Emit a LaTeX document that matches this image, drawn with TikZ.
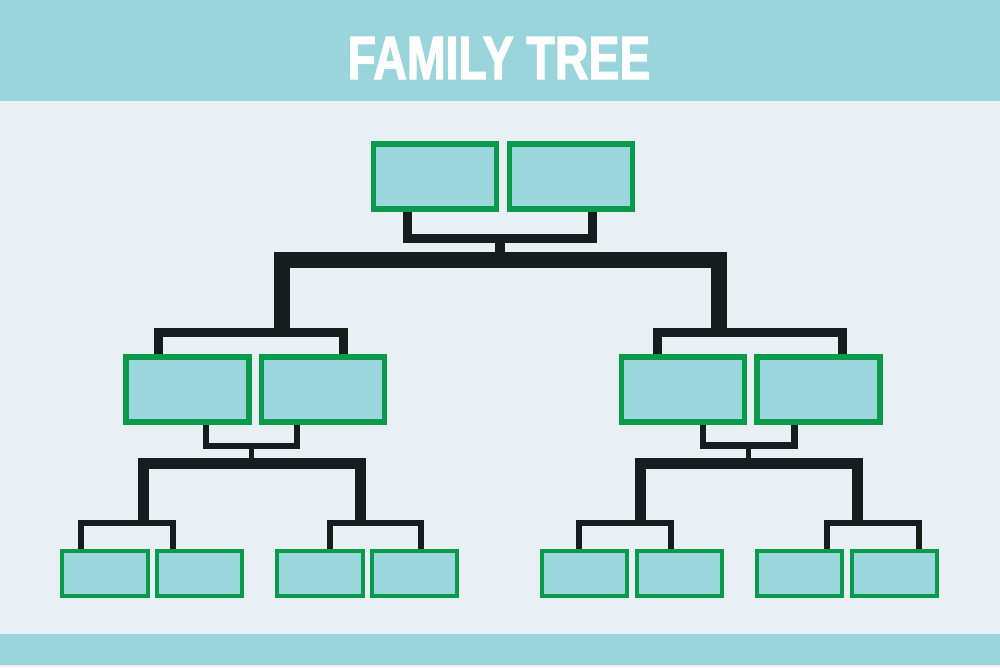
\documentclass[tikz,border=0pt]{standalone}
\usepackage{fontspec}
\usepackage{xcolor}
\usetikzlibrary{positioning}
\newfontfamily\titlefont[FakeStretch=0.76,FakeBold=1.8]{Liberation Sans}
\definecolor{band}{HTML}{9BD5DC}
\definecolor{paper}{HTML}{E8F0F3}
\definecolor{boxfill}{HTML}{9CD7DE}
\definecolor{leaf}{HTML}{0A9A4C}
\definecolor{trunk}{HTML}{171D1D}

\begin{document}
\begin{tikzpicture}[
    x=0.02cm, y=-0.02cm,
    member/.style={draw=leaf, line width=0.11cm, fill=boxfill, minimum width=2.46cm, minimum height=1.3cm, inner sep=0pt},
    kid/.style={draw=leaf, line width=0.08cm, fill=boxfill, minimum width=1.71cm, minimum height=0.9cm, inner sep=0pt},
    branch/.style={draw=trunk, line width=0.18cm},
    stem/.style={draw=trunk, line width=0.2cm},
    trunkbar/.style={draw=trunk, line width=0.32cm},
    twig/.style={draw=trunk, line width=0.13cm},
    twigstem/.style={draw=trunk, line width=0.1cm},
    limb/.style={draw=trunk, line width=0.22cm},
    sprig/.style={draw=trunk, line width=0.12cm}
]
    % Background and bands
    \useasboundingbox (0,0) rectangle (1000,667);
    \fill[paper] (0,0) rectangle (1000,667);
    \fill[band] (0,0) rectangle (1000,101);
    \fill[band] (0,634) rectangle (1000,665);
    \node[font=\titlefont\bfseries\fontsize{34.8}{40}\selectfont, text=white, inner sep=0pt] (title) at (499,58) {FAMILY TREE};

    % Grandparents
    \node[member] (gp_1) at (435,176.3) {};
    \node[member, right=0.15cm of gp_1] (gp_2) {};

    % Parents
    \node[member] (p_1) at (187.5,389.5) {};
    \node[member, right=0.14cm of p_1] (p_2) {};
    \node[member] (p_3) at (683,389.5) {};
    \node[member, right=0.14cm of p_3] (p_4) {};

    % Children
    \node[kid] (c_1) at (105,573.5) {};
    \node[kid, right=0.1cm of c_1] (c_2) {};
    \node[kid] (c_3) at (320,573.5) {};
    \node[kid, right=0.1cm of c_3] (c_4) {};
    \node[kid] (c_5) at (584.7,573.5) {};
    \node[kid, right=0.11cm of c_5] (c_6) {};
    \node[kid] (c_7) at (799.7,573.5) {};
    \node[kid, right=0.11cm of c_7] (c_8) {};

    % Junction points
    \coordinate (gp_l) at (407,238);  \coordinate (gp_r) at (592,238);  \coordinate (gp_m) at (500,238);
    \coordinate (tr_l) at (281.5,260); \coordinate (tr_r) at (718.5,260); \coordinate (tr_m) at (500,260);
    \coordinate (pa_l) at (158,332);  \coordinate (pa_r) at (343,332);  \coordinate (pa_m) at (281.5,332);
    \coordinate (pb_l) at (657,332);  \coordinate (pb_r) at (842,332);  \coordinate (pb_m) at (718.5,332);
    \coordinate (ca_l) at (206,446);  \coordinate (ca_r) at (297,446);  \coordinate (ca_m) at (251.5,446);
    \coordinate (cb_l) at (703,445.5); \coordinate (cb_r) at (794.5,445.5); \coordinate (cb_m) at (748.5,445.5);
    \coordinate (la_m) at (251.5,463.5); \coordinate (la_l) at (143,463.5); \coordinate (la_r) at (360,463.5);
    \coordinate (lb_m) at (748.5,463.5); \coordinate (lb_l) at (640.5,463.5); \coordinate (lb_r) at (857,463.5);
    \coordinate (s_1) at (81,522.5);  \coordinate (s_2) at (173,522.5);
    \coordinate (s_3) at (330,522.5); \coordinate (s_4) at (421,522.5);
    \coordinate (s_5) at (578.7,522.5); \coordinate (s_6) at (670.5,522.5);
    \coordinate (s_7) at (827,522.5); \coordinate (s_8) at (918.7,522.5);

    % Connections
    \draw[branch] (gp_l |- gp_1.south) -- (gp_l) -- (gp_r) -- (gp_r |- gp_2.south);
    \draw[stem] (gp_m) -- (tr_m);
    \draw[trunkbar] (pa_m) -- (tr_l) -- (tr_r) -- (pb_m);
    \draw[branch] (pa_l |- p_1.north) -- (pa_l) -- (pa_r) -- (pa_r |- p_2.north);
    \draw[branch] (pb_l |- p_3.north) -- (pb_l) -- (pb_r) -- (pb_r |- p_4.north);
    \draw[twig] (ca_l |- p_1.south) -- (ca_l) -- (ca_r) -- (ca_r |- p_2.south);
    \draw[twig] (cb_l |- p_3.south) -- (cb_l) -- (cb_r) -- (cb_r |- p_4.south);
    \draw[twigstem] (ca_m) -- (la_m); \draw[twigstem] (cb_m) -- (lb_m);
    \draw[limb] (la_l |- s_1) -- (la_l) -- (la_r) -- (la_r |- s_3);
    \draw[limb] (lb_l |- s_5) -- (lb_l) -- (lb_r) -- (lb_r |- s_7);
    \draw[sprig] (s_1 |- c_1.north) -- (s_1) -- (s_2) -- (s_2 |- c_2.north);
    \draw[sprig] (s_3 |- c_3.north) -- (s_3) -- (s_4) -- (s_4 |- c_4.north);
    \draw[sprig] (s_5 |- c_5.north) -- (s_5) -- (s_6) -- (s_6 |- c_6.north);
    \draw[sprig] (s_7 |- c_7.north) -- (s_7) -- (s_8) -- (s_8 |- c_8.north);
\end{tikzpicture}
\end{document}
